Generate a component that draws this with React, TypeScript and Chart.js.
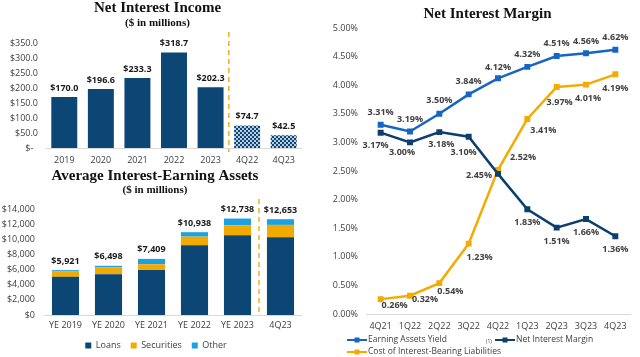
import React, { useEffect, useRef } from 'react';
import { Chart, registerables } from 'chart.js';

Chart.register(...registerables);

// ---------- DATA ----------
const niiCategories = ['2019', '2020', '2021', '2022', '2023', '4Q22', '4Q23'];
const niiValues = [170.0, 196.6, 233.3, 318.7, 202.3, 74.7, 42.5];

const aieaCategories = ['YE 2019', 'YE 2020', 'YE 2021', 'YE 2022', 'YE 2023', '4Q23'];
const aieaLoans = [5050, 5370, 5950, 9200, 10530, 10260];
const aieaSecurities = [750, 930, 750, 1150, 1320, 1640];
const aieaOther = [121, 198, 709, 588, 888, 753];
const aieaTotals = [5921, 6498, 7409, 10938, 12738, 12653];

const nimCategories = ['4Q21', '1Q22', '2Q22', '3Q22', '4Q22', '1Q23', '2Q23', '3Q23', '4Q23'];
const earningAssetsYield = [3.31, 3.19, 3.5, 3.84, 4.12, 4.32, 4.51, 4.56, 4.62];
const netInterestMargin = [3.17, 3.0, 3.18, 3.1, 2.45, 1.83, 1.51, 1.66, 1.36];
const costOfLiabilities = [0.26, 0.32, 0.54, 1.23, 2.52, 3.41, 3.97, 4.01, 4.19];

// ---------- STYLE ----------
const SANS = "'Open Sans', 'Noto Sans', sans-serif";
const SERIF = "'Liberation Serif', 'DejaVu Serif', serif";
const NAVY = '#0b4674';
const GOLD = '#f2aa00';
const SKY = '#1ca1e2';
const EAY_BLUE = '#1565c4';
const NIM_NAVY = '#0c3f6e';
const COST_GOLD = '#f5aa00';
const TEXT = '#404040';
const AXIS_LINE = '#d9d9d9';

Chart.defaults.font.family = SANS;
Chart.defaults.color = TEXT;

// label offsets (dx, dy) relative to each point, for the NIM chart
const nimLabelOffsets: number[][][] = [
  [[0, -12], [0, -12.5], [0, -13], [0, -12.5], [0, -10.5], [0, -12.3], [0, -12.7], [0, -11.7], [0, -12.3]],
  [[-5, 13], [-8, 10], [2, 12], [-5, 16], [-19, 2], [0, 13], [0, 13.5], [0, 13], [0, 13]],
  [[14, 6], [15, 4], [11, 8], [11, 14], [25, -12], [16, 11], [3, 16], [2, 14], [0, 14]],
];

// shifts non-scale layout boxes (titles, legend) horizontally
function makeBoxShift(dxTitle: number, dxLegend: number) {
  return {
    id: 'boxShift',
    afterLayout(chart: any) {
      (chart.boxes || []).forEach((b: any) => {
        if (b.axis) return;
        const opts = b.options || {};
        const dx = opts.labels ? dxLegend : opts.text !== undefined ? dxTitle : 0;
        if (dx) {
          b.left += dx;
          b.right += dx;
        }
      });
    },
  };
}

function makeDivider(afterIndex: number, above: number, below: number) {
  return {
    id: 'divider',
    afterDatasetsDraw(chart: any) {
      const x = chart.scales.x;
      const px = (x.getPixelForValue(afterIndex) + x.getPixelForValue(afterIndex + 1)) / 2;
      const { top, bottom } = chart.chartArea;
      const ctx = chart.ctx;
      ctx.save();
      ctx.strokeStyle = '#f5b324';
      ctx.lineWidth = 1.6;
      ctx.setLineDash([5, 4]);
      ctx.beginPath();
      ctx.moveTo(px, top - above);
      ctx.lineTo(px, bottom + below);
      ctx.stroke();
      ctx.restore();
    },
  };
}

const niiLabelPlugin = {
  id: 'niiLabels',
  afterDatasetsDraw(chart: any) {
    const ctx = chart.ctx;
    const meta = chart.getDatasetMeta(0);
    ctx.save();
    ctx.font = `bold 9px ${SANS}`;
    ctx.fillStyle = '#1a1a1a';
    ctx.textAlign = 'center';
    ctx.textBaseline = 'middle';
    meta.data.forEach((el: any, i: number) => {
      ctx.fillText('$' + niiValues[i].toFixed(1), el.x, el.y - 9);
    });
    ctx.restore();
  },
};

const aieaTotalPlugin = {
  id: 'aieaTotals',
  afterDatasetsDraw(chart: any) {
    const ctx = chart.ctx;
    const meta = chart.getDatasetMeta(chart.data.datasets.length - 1);
    const y = chart.scales.y;
    ctx.save();
    ctx.font = `bold 9px ${SANS}`;
    ctx.fillStyle = '#1a1a1a';
    ctx.textAlign = 'center';
    ctx.textBaseline = 'middle';
    meta.data.forEach((el: any, i: number) => {
      ctx.fillText('$' + aieaTotals[i].toLocaleString('en-US'), el.x, y.getPixelForValue(aieaTotals[i]) - 9);
    });
    ctx.restore();
  },
};

const nimLabelPlugin = {
  id: 'nimLabels',
  afterDatasetsDraw(chart: any) {
    const ctx = chart.ctx;
    ctx.save();
    ctx.font = `bold 9px ${SANS}`;
    ctx.fillStyle = TEXT;
    ctx.textAlign = 'center';
    ctx.textBaseline = 'middle';
    chart.data.datasets.forEach((ds: any, di: number) => {
      const meta = chart.getDatasetMeta(di);
      meta.data.forEach((el: any, i: number) => {
        const [dx, dy] = nimLabelOffsets[di][i];
        ctx.fillText(Number(ds.data[i]).toFixed(2) + '%', el.x + dx, el.y + dy);
      });
    });
    ctx.restore();
  },
};

const nimLegendPlugin = {
  id: 'nimLegend',
  afterDraw(chart: any) {
    const ctx = chart.ctx;
    const { left, bottom } = chart.chartArea;
    const x0 = left - 19;
    const rows = [bottom + 26, bottom + 38];
    const slots = [[x0, rows[0]], [x0 + 148, rows[0]], [x0, rows[1]]];
    ctx.save();
    chart.data.datasets.forEach((ds: any, i: number) => {
      const [x, y] = slots[i];
      ctx.strokeStyle = ds.borderColor;
      ctx.lineWidth = 2;
      ctx.beginPath();
      ctx.moveTo(x, y);
      ctx.lineTo(x + 20, y);
      ctx.stroke();
      ctx.fillStyle = ds.borderColor;
      ctx.fillRect(x + 10 - 2.5, y - 2.5, 5, 5);
      ctx.fillStyle = TEXT;
      ctx.font = `8.5px ${SANS}`;
      ctx.textAlign = 'left';
      ctx.textBaseline = 'middle';
      ctx.fillText(ds.label, x + 21, y);
    });
    ctx.font = `5px ${SANS}`;
    ctx.fillStyle = TEXT;
    ctx.textAlign = 'left';
    ctx.fillText('(1)', x0 + 139, rows[0] + 2);
    ctx.restore();
  },
};

function makePattern(): any {
  const t = document.createElement('canvas');
  t.width = 4;
  t.height = 4;
  const g = t.getContext('2d');
  if (!g) return NAVY;
  g.fillStyle = '#b9cce0';
  g.fillRect(0, 0, 4, 4);
  g.fillStyle = NAVY;
  g.fillRect(0, 0, 2, 2);
  g.fillRect(2, 2, 2, 2);
  return g.createPattern(t, 'repeat') || NAVY;
}

export default function App() {
  const ref1 = useRef<HTMLCanvasElement>(null);
  const ref2 = useRef<HTMLCanvasElement>(null);
  const ref3 = useRef<HTMLCanvasElement>(null);

  useEffect(() => {
    const pattern = makePattern();
    const noGrid = { display: false, drawTicks: false };

    const c1 = new Chart(ref1.current as HTMLCanvasElement, {
      type: 'bar',
      data: {
        labels: niiCategories,
        datasets: [
          {
            data: niiValues,
            backgroundColor: niiValues.map((_, i) => (i >= 5 ? pattern : NAVY)),
            barPercentage: 0.71,
            categoryPercentage: 1,
          },
        ],
      },
      options: {
        responsive: false,
        animation: false,
        layout: { padding: { left: 0, right: 0, top: 0, bottom: 0 } },
        plugins: {
          legend: { display: false },
          tooltip: { enabled: false },
          title: {
            display: true,
            text: 'Net Interest Income',
            color: '#111',
            font: { family: SERIF, size: 15, weight: 'bold', lineHeight: 1 },
            padding: { top: 1, bottom: 0 },
          },
          subtitle: {
            display: true,
            text: '($ in millions)',
            color: '#111',
            font: { family: SERIF, size: 11, weight: 'bold', lineHeight: 1.2 },
            padding: { top: 1, bottom: 12.8 },
          },
        },
        scales: {
          x: {
            grid: noGrid,
            border: { display: true, color: AXIS_LINE },
            ticks: { padding: 6.6, font: { size: 9 }, color: TEXT },
            afterFit: (s: any) => {
              s.height = 22;
            },
          },
          y: {
            min: 0,
            max: 350,
            grid: noGrid,
            border: { display: false },
            ticks: {
              stepSize: 50,
              padding: 8,
              font: { size: 9 },
              color: TEXT,
              callback: (v: any) => (Number(v) === 0 ? '$-  ' : '$' + Number(v).toFixed(1)),
            },
            afterFit: (s: any) => {
              s.width = 46;
            },
          },
        },
      } as any,
      plugins: [makeBoxShift(6.5, 0), makeDivider(4, 11, 4), niiLabelPlugin],
    });

    const c2 = new Chart(ref2.current as HTMLCanvasElement, {
      type: 'bar',
      data: {
        labels: aieaCategories,
        datasets: [
          { label: 'Loans', data: aieaLoans, backgroundColor: NAVY, barPercentage: 0.63, categoryPercentage: 1 },
          { label: 'Securities', data: aieaSecurities, backgroundColor: GOLD, barPercentage: 0.63, categoryPercentage: 1 },
          { label: 'Other', data: aieaOther, backgroundColor: SKY, barPercentage: 0.63, categoryPercentage: 1 },
        ],
      },
      options: {
        responsive: false,
        animation: false,
        layout: { padding: { left: 0, right: 0, top: 0, bottom: 0 } },
        plugins: {
          legend: {
            display: true,
            position: 'bottom',
            labels: { boxWidth: 6, boxHeight: 6, padding: 10, font: { size: 9 }, color: TEXT },
          },
          tooltip: { enabled: false },
          title: {
            display: true,
            text: 'Average Interest-Earning Assets',
            color: '#111',
            font: { family: SERIF, size: 15, weight: 'bold', lineHeight: 1 },
            padding: { top: 3.5, bottom: 0 },
          },
          subtitle: {
            display: true,
            text: '($ in millions)',
            color: '#111',
            font: { family: SERIF, size: 11, weight: 'bold', lineHeight: 1.2 },
            padding: { top: 0, bottom: 12.3 },
          },
        },
        scales: {
          x: {
            stacked: true,
            grid: noGrid,
            border: { display: true, color: AXIS_LINE },
            ticks: { padding: 5, font: { size: 9 }, color: TEXT },
            afterFit: (s: any) => {
              s.height = 16;
            },
          },
          y: {
            stacked: true,
            min: 0,
            max: 14000,
            grid: noGrid,
            border: { display: false },
            ticks: {
              stepSize: 2000,
              padding: 9,
              font: { size: 9 },
              color: TEXT,
              callback: (v: any) => '$' + Number(v).toLocaleString('en-US'),
            },
            afterFit: (s: any) => {
              s.width = 44;
            },
          },
        },
      } as any,
      plugins: [makeBoxShift(4, 5), makeDivider(4, 10, 0), aieaTotalPlugin],
    });

    const lineDs = (label: string, data: number[], color: string) => ({
      label,
      data,
      borderColor: color,
      backgroundColor: color,
      borderWidth: 2.5,
      pointStyle: 'rect',
      pointRadius: 4.2,
      pointBorderWidth: 0,
      pointBackgroundColor: color,
      tension: 0,
    });

    const c3 = new Chart(ref3.current as HTMLCanvasElement, {
      type: 'line',
      data: {
        labels: nimCategories,
        datasets: [
          lineDs('Earning Assets Yield', earningAssetsYield, EAY_BLUE),
          lineDs('Net Interest Margin', netInterestMargin, NIM_NAVY),
          lineDs('Cost of Interest-Bearing Liabilities', costOfLiabilities, COST_GOLD),
        ],
      },
      options: {
        responsive: false,
        animation: false,
        layout: { padding: { left: 0, right: 10, top: 0, bottom: 21 } },
        plugins: {
          legend: { display: false },
          tooltip: { enabled: false },
          title: {
            display: true,
            text: 'Net Interest Margin',
            color: '#111',
            font: { family: SERIF, size: 15, weight: 'bold', lineHeight: 1 },
            padding: { top: 6.7, bottom: 6.3 },
          },
        },
        scales: {
          x: {
            offset: true,
            grid: { display: false, drawTicks: false, offset: true },
            border: { display: true, color: AXIS_LINE },
            ticks: { padding: 6.6, font: { size: 9 }, color: TEXT },
            afterFit: (s: any) => {
              s.height = 22;
            },
          },
          y: {
            min: 0,
            max: 5,
            grid: noGrid,
            border: { display: false },
            ticks: {
              stepSize: 0.5,
              padding: 8,
              font: { size: 9 },
              color: TEXT,
              callback: (v: any) => Number(v).toFixed(2) + '%',
            },
            afterFit: (s: any) => {
              s.width = 46;
            },
          },
        },
      } as any,
      plugins: [makeBoxShift(12.5, 0), nimLabelPlugin, nimLegendPlugin],
    });

    return () => {
      c1.destroy();
      c2.destroy();
      c3.destroy();
    };
  }, []);

  return (
    <div
      style={{
        position: 'fixed',
        left: 0,
        top: 0,
        width: 640,
        height: 357,
        overflow: 'hidden',
        background: '#fff',
      }}
    >
      <canvas ref={ref1} width={302} height={170} style={{ position: 'absolute', left: 0, top: 0 }} />
      <canvas ref={ref2} width={302} height={195} style={{ position: 'absolute', left: 0, top: 165 }} />
      <canvas ref={ref3} width={320} height={357} style={{ position: 'absolute', left: 320, top: 0 }} />
    </div>
  );
}
